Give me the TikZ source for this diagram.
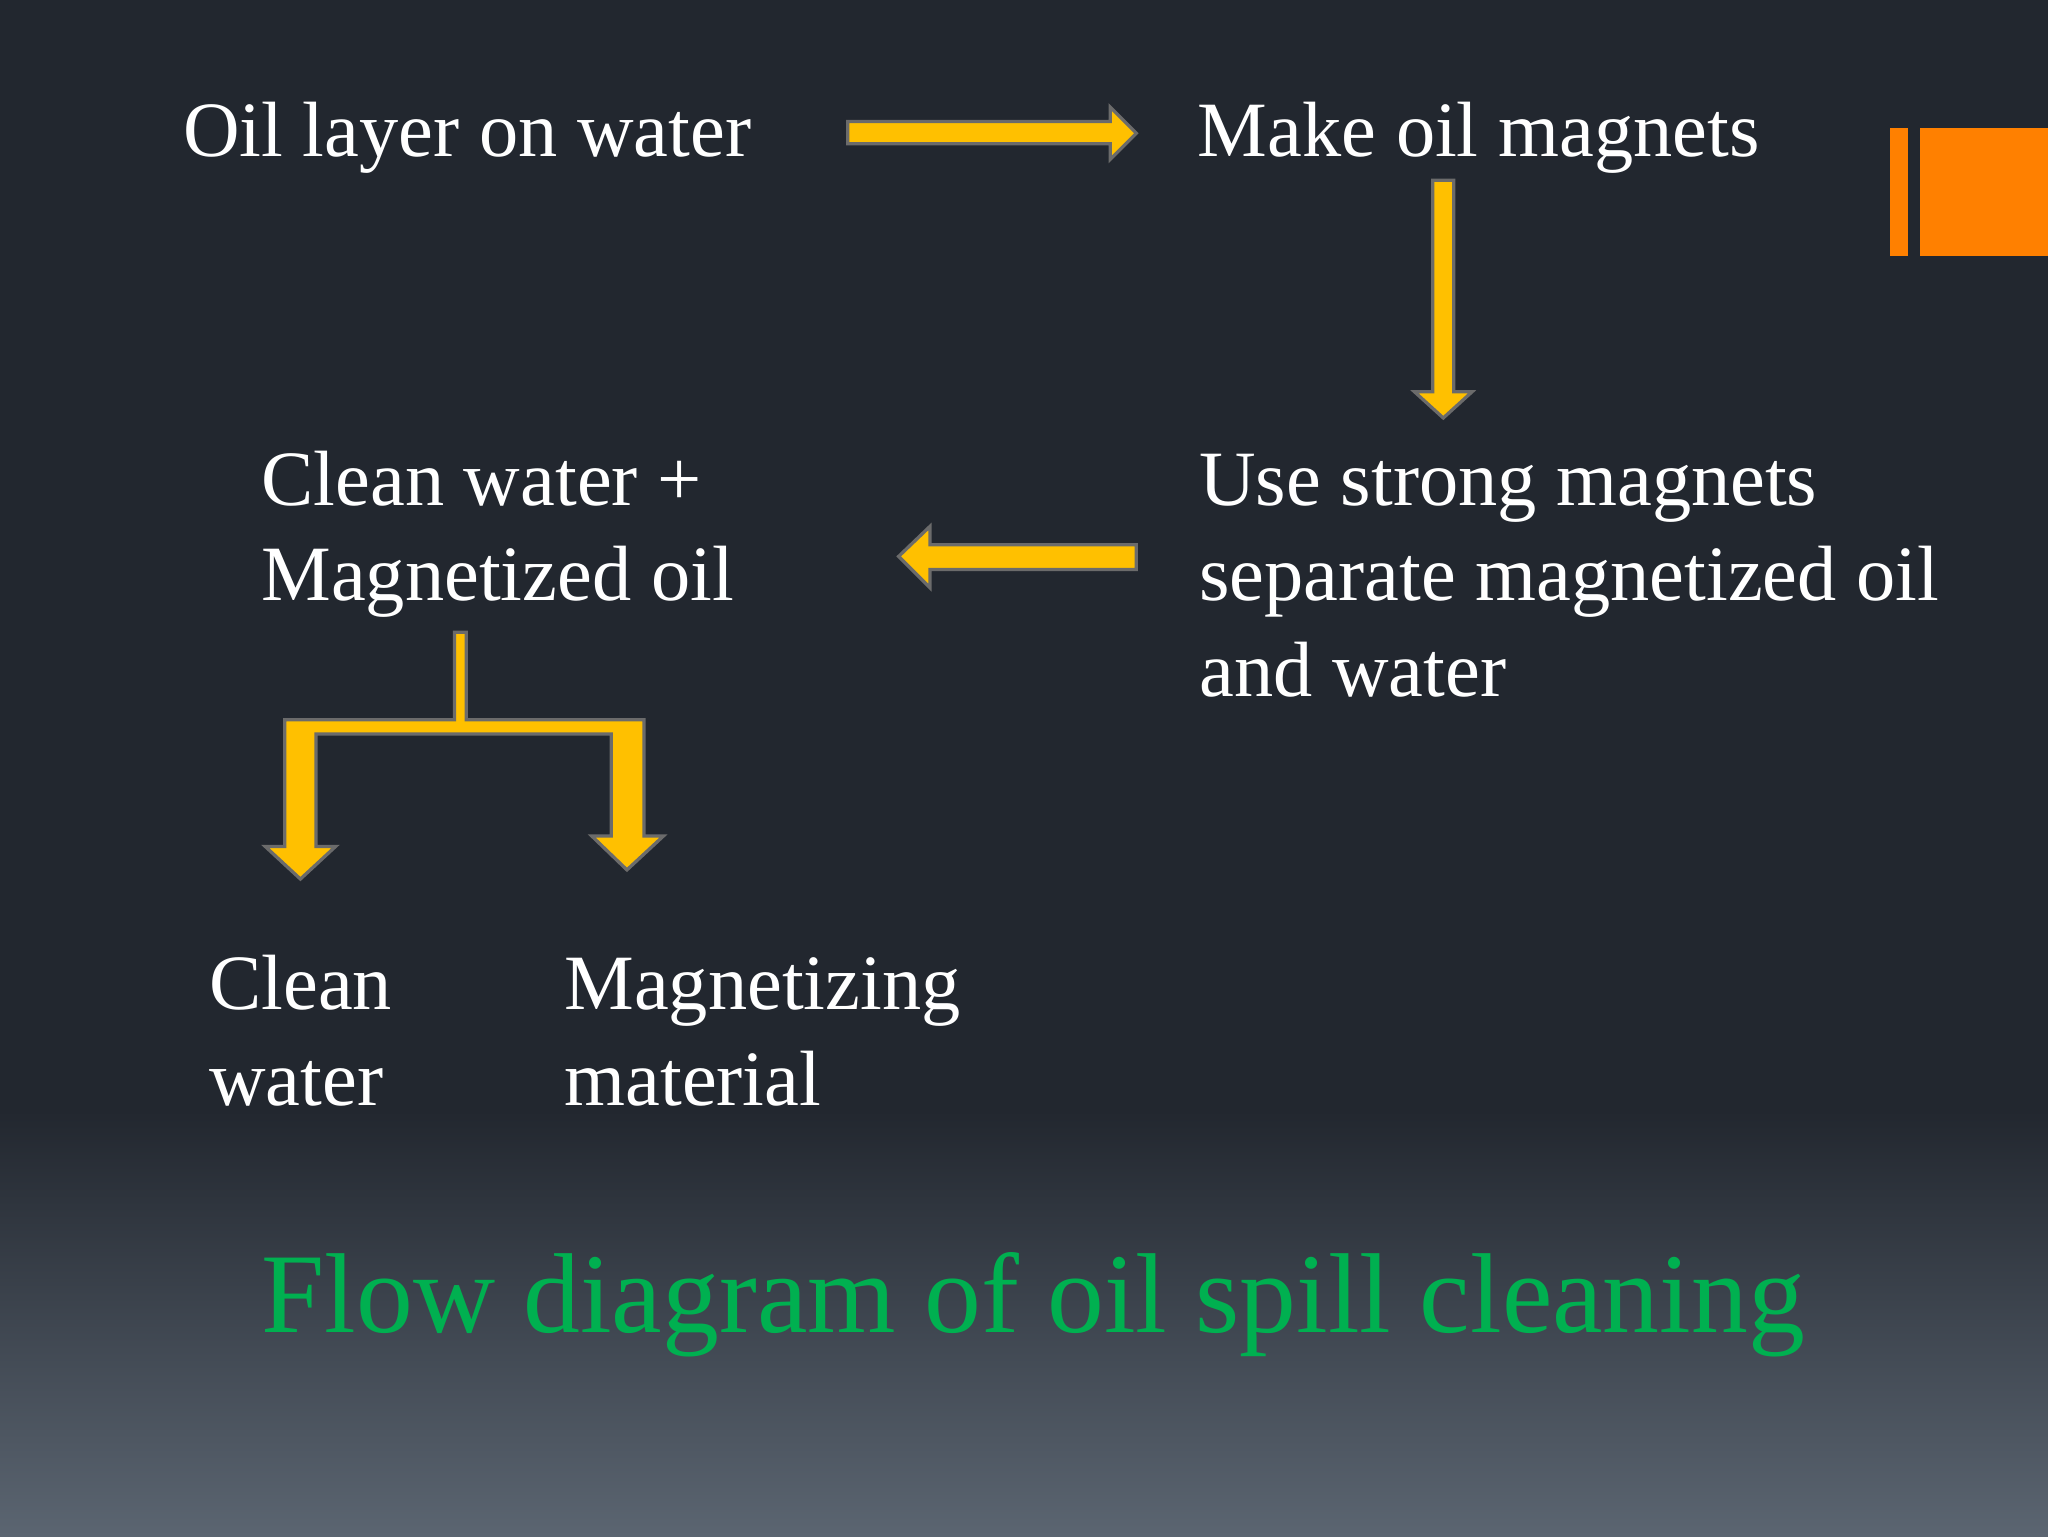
\documentclass[tikz,border=0pt]{standalone}
\usepackage{fontspec}
\setmainfont{Liberation Serif}
\definecolor{bgtop}{HTML}{22272F}
\definecolor{bgbot}{HTML}{5B6571}
\definecolor{arrowyellow}{HTML}{FFC000}
\definecolor{arrowedge}{HTML}{6B6B6B}
\definecolor{deco}{HTML}{FF8000}
\definecolor{titlegreen}{HTML}{00B050}
\tikzset{
  lbl/.style={anchor=base west, inner sep=0pt, text=white, font=\fontsize{60}{72}\selectfont},
  ttl/.style={anchor=base west, inner sep=0pt, text=titlegreen, font=\fontsize{87}{100}\selectfont},
  fat/.style={fill=arrowyellow, draw=arrowedge, line width=2.5pt, line join=miter}
}
\begin{document}
\begin{tikzpicture}[x=1pt,y=-1pt]
\useasboundingbox (0,0) rectangle (1568,1176);
\fill[bgtop] (0,0) rectangle (1568,851);
\shade[top color=bgtop, bottom color=bgbot] (0,850) rectangle (1568,1176);
% decoration
\fill[deco] (1447,98) rectangle (1461,196);
\fill[deco] (1470,98) rectangle (1568,196);
% texts
\node[lbl] (oil) at (140,120) {Oil layer on water};
\node[lbl] (make) at (917,120) {Make oil magnets};
\node[lbl] (use1) at (918,387) {Use strong magnets};
\node[lbl] (use2) at (918,460) {separate magnetized oil};
\node[lbl] (use3) at (918,533) {and water};
\node[lbl] (cw1) at (200,387) {Clean water +};
\node[lbl] (cw2) at (200,460) {Magnetized oil};
\node[lbl] (c1) at (160,773) {Clean};
\node[lbl] (c2) at (160,846) {water};
\node[lbl] (m1) at (432,773) {Magnetizing};
\node[lbl] (m2) at (432,846) {material};
\node[ttl] (title) at (200,1020) {Flow diagram of oil spill cleaning};
% arrows
\draw[fat] (649,93) -- (850,93) -- (850,82) -- (870,102) -- (850,122) -- (850,110) -- (649,110) -- cycle;
\draw[fat] (1097,138) -- (1113,138) -- (1113,300) -- (1127,300) -- (1105,320) -- (1083,300) -- (1097,300) -- cycle;
\draw[fat] (870,417) -- (712,417) -- (712,403) -- (688,426) -- (712,450) -- (712,436) -- (870,436) -- cycle;
\draw[fat] (348,484) -- (357,484) -- (357,551) -- (493,551) -- (493,640) -- (508,640) -- (480,666) -- (453,640) -- (468,640) -- (468,562) -- (242,562) -- (242,648) -- (257,648) -- (230,673) -- (203,648) -- (218,648) -- (218,551) -- (348,551) -- cycle;
\end{tikzpicture}
\end{document}
